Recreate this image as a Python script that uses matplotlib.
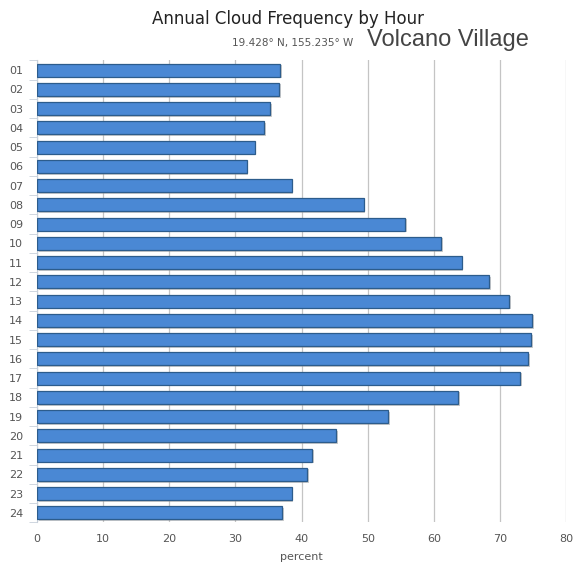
import matplotlib as mpl
mpl.use('Agg')
import matplotlib.pyplot as plt
import matplotlib.patheffects as pe
import numpy as np

hours = ['01', '02', '03', '04', '05', '06', '07', '08', '09', '10', '11', '12',
         '13', '14', '15', '16', '17', '18', '19', '20', '21', '22', '23', '24']
cloud_pct = [36.8, 36.6, 35.3, 34.4, 32.9, 31.7, 38.5, 49.4, 55.7, 61.1, 64.2, 68.4,
             71.4, 74.9, 74.7, 74.3, 73.0, 63.7, 53.1, 45.2, 41.6, 40.9, 38.5, 37.1]
xticks = [0, 10, 20, 30, 40, 50, 60, 70, 80]

fig = plt.figure(figsize=(5.76, 5.76), dpi=100)
ax = fig.add_axes([0.064, 0.093, 0.919, 0.802])

y = np.arange(len(hours))
bars = ax.barh(y, cloud_pct, height=0.68, color='#4a88d4', edgecolor='#2c5c8c',
               linewidth=0.9, zorder=3)
for b in bars:
    b.set_path_effects([pe.SimplePatchShadow(offset=(1.2, -1.2), shadow_rgbFace='#999999', alpha=0.5),
                        pe.Normal()])

ax.set_xlim(0, 80)
ax.set_ylim(len(hours) - 0.5, -0.5)
ax.set_xticks(xticks)
ax.set_xticklabels([str(t) for t in xticks])
ax.set_yticks(y)
ax.set_yticklabels(hours)
ax.set_yticks(np.arange(len(hours) + 1) - 0.5, minor=True)

ax.grid(axis='x', color='#c4c4c4', linewidth=0.9, zorder=0)
for s in ['top', 'right', 'bottom']:
    ax.spines[s].set_visible(False)
ax.spines['left'].set_color('#c8d0da')

ax.tick_params(axis='y', which='major', length=0, pad=10, labelsize=8, labelcolor='#555555')
ax.tick_params(axis='y', which='minor', length=6, color='#c8d0da')
ax.tick_params(axis='x', length=0, pad=8, labelsize=8, labelcolor='#555555')
ax.set_xlabel('percent', fontsize=8, color='#555555', labelpad=6)

fig.text(0.5, 0.967, 'Annual Cloud Frequency by Hour', ha='center', va='center',
         fontsize=12, color='#222222')
fig.text(0.613, 0.925, '19.428° N, 155.235° W', ha='right', va='center',
         fontsize=7.5, color='#555555')
fig.text(0.637, 0.931, 'Volcano Village', ha='left', va='center',
         fontsize=17, color='#444444', family='Liberation Sans')

fig.savefig('out.png', dpi=100)
